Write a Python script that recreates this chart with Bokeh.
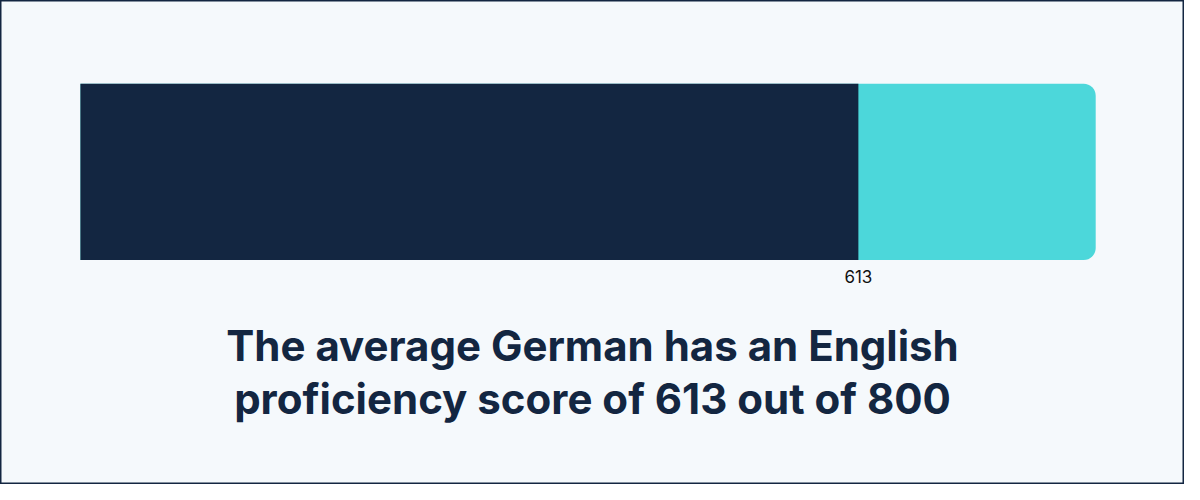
from bokeh.plotting import figure
from bokeh.models import Range1d, ColumnDataSource
from bokeh.core.properties import value
from bokeh.embed import file_html
from bokeh.resources import INLINE

# data
score = [613]
max_score = [800]
score_labels = ["613"]
title_lines = ["The average German has an English", "proficiency score of 613 out of 800"]

NAVY = "#132641"
CYAN = "#4cd7da"
BG = "#f5f9fc"

W, H = 1184, 484
sx, sy = W / 1200.0, H / 500.0
bar_l_px, bar_r_px = 81 * sx, 1110 * sx
px_per_unit = (bar_r_px - bar_l_px) / max_score[0]
x0 = -bar_l_px / px_per_unit
p = figure(width=W, height=H, output_backend="svg", toolbar_location=None,
           x_range=Range1d(x0, x0 + W / px_per_unit), y_range=Range1d(H, 0),
           min_border=0, min_border_left=0, min_border_right=0,
           min_border_top=0, min_border_bottom=0)
p.axis.visible = False
p.grid.visible = False
p.background_fill_color = BG
p.border_fill_color = BG
p.outline_line_color = NAVY
p.outline_line_width = 2

bar_top, bar_bottom = 86 * sy, 268 * sy
src = ColumnDataSource(dict(score=score, max=max_score, zero=[0], lab=score_labels))
p.quad(left="zero", right="max", top=bar_top, bottom=bar_bottom, source=src,
       fill_color=CYAN, line_color=None, border_radius=(0, 12, 12, 0))
p.quad(left="zero", right="score", top=bar_top, bottom=bar_bottom, source=src,
       fill_color=NAVY, line_color=None)
p.text(x="score", y=285 * sy, text="lab", source=src, text_align="center",
       text_baseline="middle", text_font=value("Inter"), text_font_size="17px",
       text_color="#111111")

cx = x0 + (W / 2) / px_per_unit
tsrc = ColumnDataSource(dict(x=[cx, cx], y=[356 * sy, 411 * sy], t=title_lines))
p.text(x="x", y="y", text="t", source=tsrc, text_align="center",
       text_baseline="middle", text_font=value("Inter"), text_font_style="bold",
       text_font_size="42px", text_color=NAVY)

open("out.html", "w").write(file_html(p, INLINE))
